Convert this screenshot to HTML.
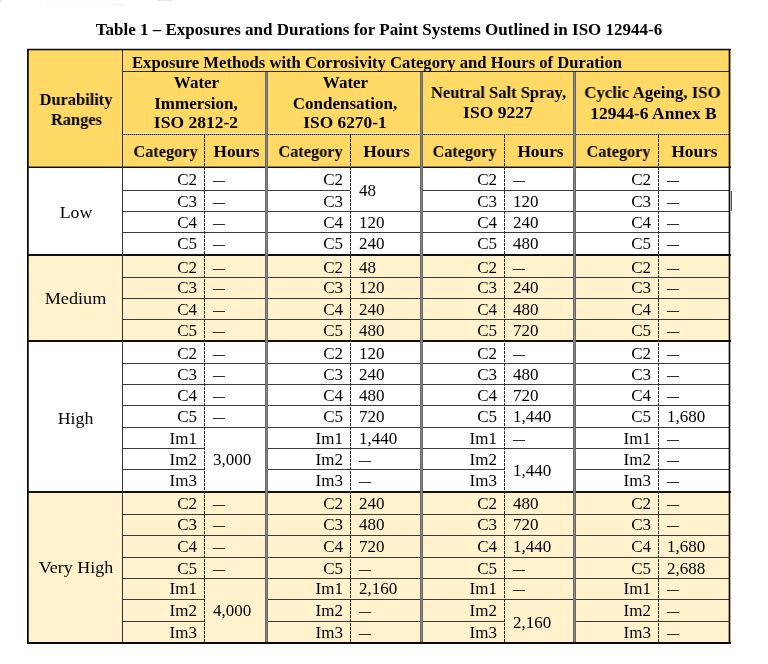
<!DOCTYPE html>
<html><head><meta charset="utf-8"><title>Table 1</title>
<style>
html,body{margin:0;padding:0;background:#fff;}
body{width:768px;height:664px;position:relative;overflow:hidden;font-family:"Liberation Serif",serif;color:#000;}
.r{position:absolute;}
.t{position:absolute;will-change:transform;white-space:nowrap;height:20px;line-height:20px;}
.d{display:inline-block;transform:scaleX(1.4);transform-origin:0 50%;}
</style></head><body>
<div class="r" style="left:27px;top:49px;width:704px;height:119px;background:#FFD966;"></div>
<div class="r" style="left:27px;top:168px;width:704px;height:86px;background:#fff;"></div>
<div class="r" style="left:27px;top:254px;width:704px;height:87px;background:#FFF2CC;"></div>
<div class="r" style="left:27px;top:341px;width:704px;height:150px;background:#fff;"></div>
<div class="r" style="left:27px;top:491px;width:704px;height:151px;background:#FFF2CC;"></div>
<div class="r" style="left:122px;top:71px;width:607px;height:1px;background:#2a2a2a;"></div>
<div class="r" style="left:123px;top:133px;width:606px;height:1px;background:#FFEFC0;"></div>
<div class="r" style="left:122px;top:134px;width:607px;height:1px;background:repeating-linear-gradient(to right,#222 0,#222 1px,#8a7a40 1px,#8a7a40 2px);"></div>
<div class="r" style="left:123px;top:190px;width:81px;height:1px;background:#3a3a3a;"></div>
<div class="r" style="left:204px;top:190px;width:61px;height:1px;background:#3a3a3a;"></div>
<div class="r" style="left:123px;top:211px;width:81px;height:1px;background:#3a3a3a;"></div>
<div class="r" style="left:204px;top:211px;width:61px;height:1px;background:#3a3a3a;"></div>
<div class="r" style="left:123px;top:232px;width:81px;height:1px;background:#3a3a3a;"></div>
<div class="r" style="left:204px;top:232px;width:61px;height:1px;background:#3a3a3a;"></div>
<div class="r" style="left:268px;top:190px;width:82px;height:1px;background:#3a3a3a;"></div>
<div class="r" style="left:350px;top:211px;width:70px;height:1px;background:#3a3a3a;"></div>
<div class="r" style="left:268px;top:211px;width:82px;height:1px;background:#3a3a3a;"></div>
<div class="r" style="left:350px;top:211px;width:70px;height:1px;background:#3a3a3a;"></div>
<div class="r" style="left:268px;top:232px;width:82px;height:1px;background:#3a3a3a;"></div>
<div class="r" style="left:350px;top:232px;width:70px;height:1px;background:#3a3a3a;"></div>
<div class="r" style="left:423px;top:190px;width:81px;height:1px;background:#3a3a3a;"></div>
<div class="r" style="left:504px;top:190px;width:69px;height:1px;background:#3a3a3a;"></div>
<div class="r" style="left:423px;top:211px;width:81px;height:1px;background:#3a3a3a;"></div>
<div class="r" style="left:504px;top:211px;width:69px;height:1px;background:#3a3a3a;"></div>
<div class="r" style="left:423px;top:232px;width:81px;height:1px;background:#3a3a3a;"></div>
<div class="r" style="left:504px;top:232px;width:69px;height:1px;background:#3a3a3a;"></div>
<div class="r" style="left:576px;top:190px;width:82px;height:1px;background:#3a3a3a;"></div>
<div class="r" style="left:658px;top:190px;width:71px;height:1px;background:#3a3a3a;"></div>
<div class="r" style="left:576px;top:211px;width:82px;height:1px;background:#3a3a3a;"></div>
<div class="r" style="left:658px;top:211px;width:71px;height:1px;background:#3a3a3a;"></div>
<div class="r" style="left:576px;top:232px;width:82px;height:1px;background:#3a3a3a;"></div>
<div class="r" style="left:658px;top:232px;width:71px;height:1px;background:#3a3a3a;"></div>
<div class="r" style="left:123px;top:277px;width:81px;height:1px;background:#3a3a3a;"></div>
<div class="r" style="left:204px;top:277px;width:61px;height:1px;background:#3a3a3a;"></div>
<div class="r" style="left:123px;top:298px;width:81px;height:1px;background:#3a3a3a;"></div>
<div class="r" style="left:204px;top:298px;width:61px;height:1px;background:#3a3a3a;"></div>
<div class="r" style="left:123px;top:319px;width:81px;height:1px;background:#3a3a3a;"></div>
<div class="r" style="left:204px;top:319px;width:61px;height:1px;background:#3a3a3a;"></div>
<div class="r" style="left:268px;top:277px;width:82px;height:1px;background:#3a3a3a;"></div>
<div class="r" style="left:350px;top:277px;width:70px;height:1px;background:#3a3a3a;"></div>
<div class="r" style="left:268px;top:298px;width:82px;height:1px;background:#3a3a3a;"></div>
<div class="r" style="left:350px;top:298px;width:70px;height:1px;background:#3a3a3a;"></div>
<div class="r" style="left:268px;top:319px;width:82px;height:1px;background:#3a3a3a;"></div>
<div class="r" style="left:350px;top:319px;width:70px;height:1px;background:#3a3a3a;"></div>
<div class="r" style="left:423px;top:277px;width:81px;height:1px;background:#3a3a3a;"></div>
<div class="r" style="left:504px;top:277px;width:69px;height:1px;background:#3a3a3a;"></div>
<div class="r" style="left:423px;top:298px;width:81px;height:1px;background:#3a3a3a;"></div>
<div class="r" style="left:504px;top:298px;width:69px;height:1px;background:#3a3a3a;"></div>
<div class="r" style="left:423px;top:319px;width:81px;height:1px;background:#3a3a3a;"></div>
<div class="r" style="left:504px;top:319px;width:69px;height:1px;background:#3a3a3a;"></div>
<div class="r" style="left:576px;top:277px;width:82px;height:1px;background:#3a3a3a;"></div>
<div class="r" style="left:658px;top:277px;width:71px;height:1px;background:#3a3a3a;"></div>
<div class="r" style="left:576px;top:298px;width:82px;height:1px;background:#3a3a3a;"></div>
<div class="r" style="left:658px;top:298px;width:71px;height:1px;background:#3a3a3a;"></div>
<div class="r" style="left:576px;top:319px;width:82px;height:1px;background:#3a3a3a;"></div>
<div class="r" style="left:658px;top:319px;width:71px;height:1px;background:#3a3a3a;"></div>
<div class="r" style="left:123px;top:363px;width:81px;height:1px;background:#3a3a3a;"></div>
<div class="r" style="left:204px;top:363px;width:61px;height:1px;background:#3a3a3a;"></div>
<div class="r" style="left:123px;top:384px;width:81px;height:1px;background:#3a3a3a;"></div>
<div class="r" style="left:204px;top:384px;width:61px;height:1px;background:#3a3a3a;"></div>
<div class="r" style="left:123px;top:405px;width:81px;height:1px;background:#3a3a3a;"></div>
<div class="r" style="left:204px;top:405px;width:61px;height:1px;background:#3a3a3a;"></div>
<div class="r" style="left:123px;top:427px;width:81px;height:1px;background:#3a3a3a;"></div>
<div class="r" style="left:204px;top:427px;width:61px;height:1px;background:#3a3a3a;"></div>
<div class="r" style="left:123px;top:448px;width:81px;height:1px;background:#3a3a3a;"></div>
<div class="r" style="left:123px;top:469px;width:81px;height:1px;background:#3a3a3a;"></div>
<div class="r" style="left:268px;top:363px;width:82px;height:1px;background:#3a3a3a;"></div>
<div class="r" style="left:350px;top:363px;width:70px;height:1px;background:#3a3a3a;"></div>
<div class="r" style="left:268px;top:384px;width:82px;height:1px;background:#3a3a3a;"></div>
<div class="r" style="left:350px;top:384px;width:70px;height:1px;background:#3a3a3a;"></div>
<div class="r" style="left:268px;top:405px;width:82px;height:1px;background:#3a3a3a;"></div>
<div class="r" style="left:350px;top:405px;width:70px;height:1px;background:#3a3a3a;"></div>
<div class="r" style="left:268px;top:427px;width:82px;height:1px;background:#3a3a3a;"></div>
<div class="r" style="left:350px;top:427px;width:70px;height:1px;background:#3a3a3a;"></div>
<div class="r" style="left:268px;top:448px;width:82px;height:1px;background:#3a3a3a;"></div>
<div class="r" style="left:350px;top:448px;width:70px;height:1px;background:#3a3a3a;"></div>
<div class="r" style="left:268px;top:469px;width:82px;height:1px;background:#3a3a3a;"></div>
<div class="r" style="left:350px;top:469px;width:70px;height:1px;background:#3a3a3a;"></div>
<div class="r" style="left:423px;top:363px;width:81px;height:1px;background:#3a3a3a;"></div>
<div class="r" style="left:504px;top:363px;width:69px;height:1px;background:#3a3a3a;"></div>
<div class="r" style="left:423px;top:384px;width:81px;height:1px;background:#3a3a3a;"></div>
<div class="r" style="left:504px;top:384px;width:69px;height:1px;background:#3a3a3a;"></div>
<div class="r" style="left:423px;top:405px;width:81px;height:1px;background:#3a3a3a;"></div>
<div class="r" style="left:504px;top:405px;width:69px;height:1px;background:#3a3a3a;"></div>
<div class="r" style="left:423px;top:427px;width:81px;height:1px;background:#3a3a3a;"></div>
<div class="r" style="left:504px;top:427px;width:69px;height:1px;background:#3a3a3a;"></div>
<div class="r" style="left:423px;top:448px;width:81px;height:1px;background:#3a3a3a;"></div>
<div class="r" style="left:504px;top:448px;width:69px;height:1px;background:#3a3a3a;"></div>
<div class="r" style="left:423px;top:469px;width:81px;height:1px;background:#3a3a3a;"></div>
<div class="r" style="left:576px;top:363px;width:82px;height:1px;background:#3a3a3a;"></div>
<div class="r" style="left:658px;top:363px;width:71px;height:1px;background:#3a3a3a;"></div>
<div class="r" style="left:576px;top:384px;width:82px;height:1px;background:#3a3a3a;"></div>
<div class="r" style="left:658px;top:384px;width:71px;height:1px;background:#3a3a3a;"></div>
<div class="r" style="left:576px;top:405px;width:82px;height:1px;background:#3a3a3a;"></div>
<div class="r" style="left:658px;top:405px;width:71px;height:1px;background:#3a3a3a;"></div>
<div class="r" style="left:576px;top:427px;width:82px;height:1px;background:#3a3a3a;"></div>
<div class="r" style="left:658px;top:427px;width:71px;height:1px;background:#3a3a3a;"></div>
<div class="r" style="left:576px;top:448px;width:82px;height:1px;background:#3a3a3a;"></div>
<div class="r" style="left:658px;top:448px;width:71px;height:1px;background:#3a3a3a;"></div>
<div class="r" style="left:576px;top:469px;width:82px;height:1px;background:#3a3a3a;"></div>
<div class="r" style="left:658px;top:469px;width:71px;height:1px;background:#3a3a3a;"></div>
<div class="r" style="left:123px;top:514px;width:81px;height:1px;background:#3a3a3a;"></div>
<div class="r" style="left:204px;top:514px;width:61px;height:1px;background:#3a3a3a;"></div>
<div class="r" style="left:123px;top:535px;width:81px;height:1px;background:#3a3a3a;"></div>
<div class="r" style="left:204px;top:535px;width:61px;height:1px;background:#3a3a3a;"></div>
<div class="r" style="left:123px;top:557px;width:81px;height:1px;background:#3a3a3a;"></div>
<div class="r" style="left:204px;top:557px;width:61px;height:1px;background:#3a3a3a;"></div>
<div class="r" style="left:123px;top:578px;width:81px;height:1px;background:#3a3a3a;"></div>
<div class="r" style="left:204px;top:578px;width:61px;height:1px;background:#3a3a3a;"></div>
<div class="r" style="left:123px;top:599px;width:81px;height:1px;background:#3a3a3a;"></div>
<div class="r" style="left:123px;top:621px;width:81px;height:1px;background:#3a3a3a;"></div>
<div class="r" style="left:268px;top:514px;width:82px;height:1px;background:#3a3a3a;"></div>
<div class="r" style="left:350px;top:514px;width:70px;height:1px;background:#3a3a3a;"></div>
<div class="r" style="left:268px;top:535px;width:82px;height:1px;background:#3a3a3a;"></div>
<div class="r" style="left:350px;top:535px;width:70px;height:1px;background:#3a3a3a;"></div>
<div class="r" style="left:268px;top:557px;width:82px;height:1px;background:#3a3a3a;"></div>
<div class="r" style="left:350px;top:557px;width:70px;height:1px;background:#3a3a3a;"></div>
<div class="r" style="left:268px;top:578px;width:82px;height:1px;background:#3a3a3a;"></div>
<div class="r" style="left:350px;top:578px;width:70px;height:1px;background:#3a3a3a;"></div>
<div class="r" style="left:268px;top:599px;width:82px;height:1px;background:#3a3a3a;"></div>
<div class="r" style="left:350px;top:599px;width:70px;height:1px;background:#3a3a3a;"></div>
<div class="r" style="left:268px;top:621px;width:82px;height:1px;background:#3a3a3a;"></div>
<div class="r" style="left:350px;top:621px;width:70px;height:1px;background:#3a3a3a;"></div>
<div class="r" style="left:423px;top:514px;width:81px;height:1px;background:#3a3a3a;"></div>
<div class="r" style="left:504px;top:514px;width:69px;height:1px;background:#3a3a3a;"></div>
<div class="r" style="left:423px;top:535px;width:81px;height:1px;background:#3a3a3a;"></div>
<div class="r" style="left:504px;top:535px;width:69px;height:1px;background:#3a3a3a;"></div>
<div class="r" style="left:423px;top:557px;width:81px;height:1px;background:#3a3a3a;"></div>
<div class="r" style="left:504px;top:557px;width:69px;height:1px;background:#3a3a3a;"></div>
<div class="r" style="left:423px;top:578px;width:81px;height:1px;background:#3a3a3a;"></div>
<div class="r" style="left:504px;top:578px;width:69px;height:1px;background:#3a3a3a;"></div>
<div class="r" style="left:423px;top:599px;width:81px;height:1px;background:#3a3a3a;"></div>
<div class="r" style="left:504px;top:599px;width:69px;height:1px;background:#3a3a3a;"></div>
<div class="r" style="left:423px;top:621px;width:81px;height:1px;background:#3a3a3a;"></div>
<div class="r" style="left:576px;top:514px;width:82px;height:1px;background:#3a3a3a;"></div>
<div class="r" style="left:658px;top:514px;width:71px;height:1px;background:#3a3a3a;"></div>
<div class="r" style="left:576px;top:535px;width:82px;height:1px;background:#3a3a3a;"></div>
<div class="r" style="left:658px;top:535px;width:71px;height:1px;background:#3a3a3a;"></div>
<div class="r" style="left:576px;top:557px;width:82px;height:1px;background:#3a3a3a;"></div>
<div class="r" style="left:658px;top:557px;width:71px;height:1px;background:#3a3a3a;"></div>
<div class="r" style="left:576px;top:578px;width:82px;height:1px;background:#3a3a3a;"></div>
<div class="r" style="left:658px;top:578px;width:71px;height:1px;background:#3a3a3a;"></div>
<div class="r" style="left:576px;top:599px;width:82px;height:1px;background:#3a3a3a;"></div>
<div class="r" style="left:658px;top:599px;width:71px;height:1px;background:#3a3a3a;"></div>
<div class="r" style="left:576px;top:621px;width:82px;height:1px;background:#3a3a3a;"></div>
<div class="r" style="left:658px;top:621px;width:71px;height:1px;background:#3a3a3a;"></div>
<div class="r" style="left:27px;top:254px;width:704px;height:2px;background:#111;"></div>
<div class="r" style="left:27px;top:340px;width:704px;height:2px;background:#111;"></div>
<div class="r" style="left:27px;top:491px;width:704px;height:2px;background:#111;"></div>
<div class="r" style="left:27px;top:166px;width:704px;height:1px;background:rgba(10,10,10,0.45);"></div>
<div class="r" style="left:27px;top:167px;width:704px;height:1px;background:#0a0a0a;"></div>
<div class="r" style="left:122px;top:49px;width:1px;height:593px;background:#333;"></div>
<div class="r" style="left:265px;top:72px;width:3px;height:571px;background:#8a8a8a;border-left:1px solid #666;border-right:1px solid #666;box-sizing:border-box;"></div>
<div class="r" style="left:420px;top:72px;width:3px;height:571px;background:#8a8a8a;border-left:1px solid #666;border-right:1px solid #666;box-sizing:border-box;"></div>
<div class="r" style="left:573px;top:72px;width:3px;height:571px;background:#8a8a8a;border-left:1px solid #666;border-right:1px solid #666;box-sizing:border-box;"></div>
<div class="r" style="left:204px;top:135px;width:1px;height:507px;background:repeating-linear-gradient(to bottom,#2e2e2e 0,#2e2e2e 3px,transparent 3px,transparent 4px);"></div>
<div class="r" style="left:350px;top:135px;width:1px;height:507px;background:repeating-linear-gradient(to bottom,#2e2e2e 0,#2e2e2e 3px,transparent 3px,transparent 4px);"></div>
<div class="r" style="left:504px;top:135px;width:1px;height:507px;background:repeating-linear-gradient(to bottom,#2e2e2e 0,#2e2e2e 3px,transparent 3px,transparent 4px);"></div>
<div class="r" style="left:658px;top:135px;width:1px;height:507px;background:repeating-linear-gradient(to bottom,#2e2e2e 0,#2e2e2e 3px,transparent 3px,transparent 4px);"></div>
<div class="r" style="left:27px;top:48px;width:704px;height:1px;background:rgba(10,10,10,0.25);"></div>
<div class="r" style="left:27px;top:49px;width:704px;height:1px;background:#0a0a0a;"></div>
<div class="r" style="left:28px;top:50px;width:702px;height:1px;background:rgba(10,10,10,0.3);"></div>
<div class="r" style="left:27px;top:642px;width:704px;height:2px;background:#0a0a0a;"></div>
<div class="r" style="left:27px;top:49px;width:1px;height:595px;background:#0a0a0a;"></div>
<div class="r" style="left:28px;top:50px;width:1px;height:593px;background:rgba(10,10,10,0.75);"></div>
<div class="r" style="left:728px;top:50px;width:1px;height:593px;background:rgba(10,10,10,0.35);"></div>
<div class="r" style="left:729px;top:49px;width:1px;height:595px;background:#0a0a0a;"></div>
<div class="r" style="left:730px;top:49px;width:1px;height:595px;background:rgba(10,10,10,0.3);"></div>
<div class="r" style="left:731px;top:191px;width:1px;height:20px;background:#555;"></div>
<div class="r" style="left:0px;top:0px;width:2px;height:2px;background:#e4e4e4;"></div>
<div class="r" style="left:47px;top:4px;width:66px;height:1px;background:repeating-linear-gradient(to right,#F7F0D8 0,#F7F0D8 1px,transparent 1px,transparent 2px);"></div>
<div class="r" style="left:113px;top:4px;width:12px;height:1px;background:#F6EEE2;"></div>
<div class="r" style="left:158px;top:0;width:15px;height:1px;background:repeating-linear-gradient(to right,#dcdcdc 0,#dcdcdc 2px,transparent 2px,transparent 3px);"></div>
<div class="t" style="left:59px;top:202px;width:34px;font-size:17.5px;text-align:center;transform:scaleX(1.0162);transform-origin:50% 50%;">Low</div>
<div class="t" style="left:175px;top:170px;width:22px;font-size:17px;text-align:right;">C2</div>
<div class="t" style="left:213px;top:170px;width:10px;font-size:17px;text-align:left;"><span class="d">–</span></div>
<div class="t" style="left:175px;top:192px;width:22px;font-size:17px;text-align:right;">C3</div>
<div class="t" style="left:213px;top:192px;width:10px;font-size:17px;text-align:left;"><span class="d">–</span></div>
<div class="t" style="left:175px;top:213px;width:22px;font-size:17px;text-align:right;">C4</div>
<div class="t" style="left:213px;top:213px;width:10px;font-size:17px;text-align:left;"><span class="d">–</span></div>
<div class="t" style="left:175px;top:234px;width:22px;font-size:17px;text-align:right;">C5</div>
<div class="t" style="left:213px;top:234px;width:10px;font-size:17px;text-align:left;"><span class="d">–</span></div>
<div class="t" style="left:321px;top:170px;width:22px;font-size:17px;text-align:right;">C2</div>
<div class="t" style="left:359px;top:181px;width:19px;font-size:17px;text-align:left;">48</div>
<div class="t" style="left:321px;top:192px;width:22px;font-size:17px;text-align:right;">C3</div>
<div class="t" style="left:321px;top:213px;width:22px;font-size:17px;text-align:right;">C4</div>
<div class="t" style="left:359px;top:213px;width:28px;font-size:17px;text-align:left;">120</div>
<div class="t" style="left:321px;top:234px;width:22px;font-size:17px;text-align:right;">C5</div>
<div class="t" style="left:359px;top:234px;width:28px;font-size:17px;text-align:left;">240</div>
<div class="t" style="left:475px;top:170px;width:22px;font-size:17px;text-align:right;">C2</div>
<div class="t" style="left:513px;top:170px;width:10px;font-size:17px;text-align:left;"><span class="d">–</span></div>
<div class="t" style="left:475px;top:192px;width:22px;font-size:17px;text-align:right;">C3</div>
<div class="t" style="left:513px;top:192px;width:28px;font-size:17px;text-align:left;">120</div>
<div class="t" style="left:475px;top:213px;width:22px;font-size:17px;text-align:right;">C4</div>
<div class="t" style="left:513px;top:213px;width:28px;font-size:17px;text-align:left;">240</div>
<div class="t" style="left:475px;top:234px;width:22px;font-size:17px;text-align:right;">C5</div>
<div class="t" style="left:513px;top:234px;width:28px;font-size:17px;text-align:left;">480</div>
<div class="t" style="left:629px;top:170px;width:22px;font-size:17px;text-align:right;">C2</div>
<div class="t" style="left:667px;top:170px;width:10px;font-size:17px;text-align:left;"><span class="d">–</span></div>
<div class="t" style="left:629px;top:192px;width:22px;font-size:17px;text-align:right;">C3</div>
<div class="t" style="left:667px;top:192px;width:10px;font-size:17px;text-align:left;"><span class="d">–</span></div>
<div class="t" style="left:629px;top:213px;width:22px;font-size:17px;text-align:right;">C4</div>
<div class="t" style="left:667px;top:213px;width:10px;font-size:17px;text-align:left;"><span class="d">–</span></div>
<div class="t" style="left:629px;top:234px;width:22px;font-size:17px;text-align:right;">C5</div>
<div class="t" style="left:667px;top:234px;width:10px;font-size:17px;text-align:left;"><span class="d">–</span></div>
<div class="t" style="left:45px;top:288px;width:61px;font-size:17.5px;text-align:center;transform:scaleX(1.0387);transform-origin:50% 50%;">Medium</div>
<div class="t" style="left:175px;top:258px;width:22px;font-size:17px;text-align:right;">C2</div>
<div class="t" style="left:213px;top:258px;width:10px;font-size:17px;text-align:left;"><span class="d">–</span></div>
<div class="t" style="left:175px;top:278px;width:22px;font-size:17px;text-align:right;">C3</div>
<div class="t" style="left:213px;top:278px;width:10px;font-size:17px;text-align:left;"><span class="d">–</span></div>
<div class="t" style="left:175px;top:300px;width:22px;font-size:17px;text-align:right;">C4</div>
<div class="t" style="left:213px;top:300px;width:10px;font-size:17px;text-align:left;"><span class="d">–</span></div>
<div class="t" style="left:175px;top:321px;width:22px;font-size:17px;text-align:right;">C5</div>
<div class="t" style="left:213px;top:321px;width:10px;font-size:17px;text-align:left;"><span class="d">–</span></div>
<div class="t" style="left:321px;top:258px;width:22px;font-size:17px;text-align:right;">C2</div>
<div class="t" style="left:359px;top:258px;width:19px;font-size:17px;text-align:left;">48</div>
<div class="t" style="left:321px;top:278px;width:22px;font-size:17px;text-align:right;">C3</div>
<div class="t" style="left:359px;top:278px;width:28px;font-size:17px;text-align:left;">120</div>
<div class="t" style="left:321px;top:300px;width:22px;font-size:17px;text-align:right;">C4</div>
<div class="t" style="left:359px;top:300px;width:28px;font-size:17px;text-align:left;">240</div>
<div class="t" style="left:321px;top:321px;width:22px;font-size:17px;text-align:right;">C5</div>
<div class="t" style="left:359px;top:321px;width:28px;font-size:17px;text-align:left;">480</div>
<div class="t" style="left:475px;top:258px;width:22px;font-size:17px;text-align:right;">C2</div>
<div class="t" style="left:513px;top:258px;width:10px;font-size:17px;text-align:left;"><span class="d">–</span></div>
<div class="t" style="left:475px;top:278px;width:22px;font-size:17px;text-align:right;">C3</div>
<div class="t" style="left:513px;top:278px;width:28px;font-size:17px;text-align:left;">240</div>
<div class="t" style="left:475px;top:300px;width:22px;font-size:17px;text-align:right;">C4</div>
<div class="t" style="left:513px;top:300px;width:28px;font-size:17px;text-align:left;">480</div>
<div class="t" style="left:475px;top:321px;width:22px;font-size:17px;text-align:right;">C5</div>
<div class="t" style="left:513px;top:321px;width:28px;font-size:17px;text-align:left;">720</div>
<div class="t" style="left:629px;top:258px;width:22px;font-size:17px;text-align:right;">C2</div>
<div class="t" style="left:667px;top:258px;width:10px;font-size:17px;text-align:left;"><span class="d">–</span></div>
<div class="t" style="left:629px;top:278px;width:22px;font-size:17px;text-align:right;">C3</div>
<div class="t" style="left:667px;top:278px;width:10px;font-size:17px;text-align:left;"><span class="d">–</span></div>
<div class="t" style="left:629px;top:300px;width:22px;font-size:17px;text-align:right;">C4</div>
<div class="t" style="left:667px;top:300px;width:10px;font-size:17px;text-align:left;"><span class="d">–</span></div>
<div class="t" style="left:629px;top:321px;width:22px;font-size:17px;text-align:right;">C5</div>
<div class="t" style="left:667px;top:321px;width:10px;font-size:17px;text-align:left;"><span class="d">–</span></div>
<div class="t" style="left:57px;top:408px;width:37px;font-size:17.5px;text-align:center;transform:scaleX(1.0200);transform-origin:50% 50%;">High</div>
<div class="t" style="left:175px;top:344px;width:22px;font-size:17px;text-align:right;">C2</div>
<div class="t" style="left:213px;top:344px;width:10px;font-size:17px;text-align:left;"><span class="d">–</span></div>
<div class="t" style="left:175px;top:365px;width:22px;font-size:17px;text-align:right;">C3</div>
<div class="t" style="left:213px;top:365px;width:10px;font-size:17px;text-align:left;"><span class="d">–</span></div>
<div class="t" style="left:175px;top:386px;width:22px;font-size:17px;text-align:right;">C4</div>
<div class="t" style="left:213px;top:386px;width:10px;font-size:17px;text-align:left;"><span class="d">–</span></div>
<div class="t" style="left:175px;top:407px;width:22px;font-size:17px;text-align:right;">C5</div>
<div class="t" style="left:213px;top:407px;width:10px;font-size:17px;text-align:left;"><span class="d">–</span></div>
<div class="t" style="left:168px;top:429px;width:29px;font-size:17px;text-align:right;">Im1</div>
<div class="t" style="left:213px;top:450px;width:40px;font-size:17px;text-align:left;">3,000</div>
<div class="t" style="left:168px;top:450px;width:29px;font-size:17px;text-align:right;">Im2</div>
<div class="t" style="left:168px;top:471px;width:29px;font-size:17px;text-align:right;">Im3</div>
<div class="t" style="left:321px;top:344px;width:22px;font-size:17px;text-align:right;">C2</div>
<div class="t" style="left:359px;top:344px;width:28px;font-size:17px;text-align:left;">120</div>
<div class="t" style="left:321px;top:365px;width:22px;font-size:17px;text-align:right;">C3</div>
<div class="t" style="left:359px;top:365px;width:28px;font-size:17px;text-align:left;">240</div>
<div class="t" style="left:321px;top:386px;width:22px;font-size:17px;text-align:right;">C4</div>
<div class="t" style="left:359px;top:386px;width:28px;font-size:17px;text-align:left;">480</div>
<div class="t" style="left:321px;top:407px;width:22px;font-size:17px;text-align:right;">C5</div>
<div class="t" style="left:359px;top:407px;width:28px;font-size:17px;text-align:left;">720</div>
<div class="t" style="left:314px;top:429px;width:29px;font-size:17px;text-align:right;">Im1</div>
<div class="t" style="left:359px;top:429px;width:40px;font-size:17px;text-align:left;">1,440</div>
<div class="t" style="left:314px;top:450px;width:29px;font-size:17px;text-align:right;">Im2</div>
<div class="t" style="left:359px;top:450px;width:10px;font-size:17px;text-align:left;"><span class="d">–</span></div>
<div class="t" style="left:314px;top:471px;width:29px;font-size:17px;text-align:right;">Im3</div>
<div class="t" style="left:359px;top:471px;width:10px;font-size:17px;text-align:left;"><span class="d">–</span></div>
<div class="t" style="left:475px;top:344px;width:22px;font-size:17px;text-align:right;">C2</div>
<div class="t" style="left:513px;top:344px;width:10px;font-size:17px;text-align:left;"><span class="d">–</span></div>
<div class="t" style="left:475px;top:365px;width:22px;font-size:17px;text-align:right;">C3</div>
<div class="t" style="left:513px;top:365px;width:28px;font-size:17px;text-align:left;">480</div>
<div class="t" style="left:475px;top:386px;width:22px;font-size:17px;text-align:right;">C4</div>
<div class="t" style="left:513px;top:386px;width:28px;font-size:17px;text-align:left;">720</div>
<div class="t" style="left:475px;top:407px;width:22px;font-size:17px;text-align:right;">C5</div>
<div class="t" style="left:513px;top:407px;width:40px;font-size:17px;text-align:left;">1,440</div>
<div class="t" style="left:468px;top:429px;width:29px;font-size:17px;text-align:right;">Im1</div>
<div class="t" style="left:513px;top:429px;width:10px;font-size:17px;text-align:left;"><span class="d">–</span></div>
<div class="t" style="left:468px;top:450px;width:29px;font-size:17px;text-align:right;">Im2</div>
<div class="t" style="left:513px;top:461px;width:40px;font-size:17px;text-align:left;">1,440</div>
<div class="t" style="left:468px;top:471px;width:29px;font-size:17px;text-align:right;">Im3</div>
<div class="t" style="left:629px;top:344px;width:22px;font-size:17px;text-align:right;">C2</div>
<div class="t" style="left:667px;top:344px;width:10px;font-size:17px;text-align:left;"><span class="d">–</span></div>
<div class="t" style="left:629px;top:365px;width:22px;font-size:17px;text-align:right;">C3</div>
<div class="t" style="left:667px;top:365px;width:10px;font-size:17px;text-align:left;"><span class="d">–</span></div>
<div class="t" style="left:629px;top:386px;width:22px;font-size:17px;text-align:right;">C4</div>
<div class="t" style="left:667px;top:386px;width:10px;font-size:17px;text-align:left;"><span class="d">–</span></div>
<div class="t" style="left:629px;top:407px;width:22px;font-size:17px;text-align:right;">C5</div>
<div class="t" style="left:667px;top:407px;width:40px;font-size:17px;text-align:left;">1,680</div>
<div class="t" style="left:622px;top:429px;width:29px;font-size:17px;text-align:right;">Im1</div>
<div class="t" style="left:667px;top:429px;width:10px;font-size:17px;text-align:left;"><span class="d">–</span></div>
<div class="t" style="left:622px;top:450px;width:29px;font-size:17px;text-align:right;">Im2</div>
<div class="t" style="left:667px;top:450px;width:10px;font-size:17px;text-align:left;"><span class="d">–</span></div>
<div class="t" style="left:622px;top:471px;width:29px;font-size:17px;text-align:right;">Im3</div>
<div class="t" style="left:667px;top:471px;width:10px;font-size:17px;text-align:left;"><span class="d">–</span></div>
<div class="t" style="left:38.5px;top:557px;width:74px;font-size:17.5px;text-align:center;transform:scaleX(1.0260);transform-origin:50% 50%;">Very High</div>
<div class="t" style="left:175px;top:494px;width:22px;font-size:17px;text-align:right;">C2</div>
<div class="t" style="left:213px;top:494px;width:10px;font-size:17px;text-align:left;"><span class="d">–</span></div>
<div class="t" style="left:175px;top:515px;width:22px;font-size:17px;text-align:right;">C3</div>
<div class="t" style="left:213px;top:515px;width:10px;font-size:17px;text-align:left;"><span class="d">–</span></div>
<div class="t" style="left:175px;top:537px;width:22px;font-size:17px;text-align:right;">C4</div>
<div class="t" style="left:213px;top:537px;width:10px;font-size:17px;text-align:left;"><span class="d">–</span></div>
<div class="t" style="left:175px;top:559px;width:22px;font-size:17px;text-align:right;">C5</div>
<div class="t" style="left:213px;top:559px;width:10px;font-size:17px;text-align:left;"><span class="d">–</span></div>
<div class="t" style="left:168px;top:579px;width:29px;font-size:17px;text-align:right;">Im1</div>
<div class="t" style="left:213px;top:601px;width:40px;font-size:17px;text-align:left;">4,000</div>
<div class="t" style="left:168px;top:601px;width:29px;font-size:17px;text-align:right;">Im2</div>
<div class="t" style="left:168px;top:623px;width:29px;font-size:17px;text-align:right;">Im3</div>
<div class="t" style="left:321px;top:494px;width:22px;font-size:17px;text-align:right;">C2</div>
<div class="t" style="left:359px;top:494px;width:28px;font-size:17px;text-align:left;">240</div>
<div class="t" style="left:321px;top:515px;width:22px;font-size:17px;text-align:right;">C3</div>
<div class="t" style="left:359px;top:515px;width:28px;font-size:17px;text-align:left;">480</div>
<div class="t" style="left:321px;top:537px;width:22px;font-size:17px;text-align:right;">C4</div>
<div class="t" style="left:359px;top:537px;width:28px;font-size:17px;text-align:left;">720</div>
<div class="t" style="left:321px;top:559px;width:22px;font-size:17px;text-align:right;">C5</div>
<div class="t" style="left:359px;top:559px;width:10px;font-size:17px;text-align:left;"><span class="d">–</span></div>
<div class="t" style="left:314px;top:579px;width:29px;font-size:17px;text-align:right;">Im1</div>
<div class="t" style="left:359px;top:579px;width:40px;font-size:17px;text-align:left;">2,160</div>
<div class="t" style="left:314px;top:601px;width:29px;font-size:17px;text-align:right;">Im2</div>
<div class="t" style="left:359px;top:601px;width:10px;font-size:17px;text-align:left;"><span class="d">–</span></div>
<div class="t" style="left:314px;top:623px;width:29px;font-size:17px;text-align:right;">Im3</div>
<div class="t" style="left:359px;top:623px;width:10px;font-size:17px;text-align:left;"><span class="d">–</span></div>
<div class="t" style="left:475px;top:494px;width:22px;font-size:17px;text-align:right;">C2</div>
<div class="t" style="left:513px;top:494px;width:28px;font-size:17px;text-align:left;">480</div>
<div class="t" style="left:475px;top:515px;width:22px;font-size:17px;text-align:right;">C3</div>
<div class="t" style="left:513px;top:515px;width:28px;font-size:17px;text-align:left;">720</div>
<div class="t" style="left:475px;top:537px;width:22px;font-size:17px;text-align:right;">C4</div>
<div class="t" style="left:513px;top:537px;width:40px;font-size:17px;text-align:left;">1,440</div>
<div class="t" style="left:475px;top:559px;width:22px;font-size:17px;text-align:right;">C5</div>
<div class="t" style="left:513px;top:559px;width:10px;font-size:17px;text-align:left;"><span class="d">–</span></div>
<div class="t" style="left:468px;top:579px;width:29px;font-size:17px;text-align:right;">Im1</div>
<div class="t" style="left:513px;top:579px;width:10px;font-size:17px;text-align:left;"><span class="d">–</span></div>
<div class="t" style="left:468px;top:601px;width:29px;font-size:17px;text-align:right;">Im2</div>
<div class="t" style="left:513px;top:613px;width:40px;font-size:17px;text-align:left;">2,160</div>
<div class="t" style="left:468px;top:623px;width:29px;font-size:17px;text-align:right;">Im3</div>
<div class="t" style="left:629px;top:494px;width:22px;font-size:17px;text-align:right;">C2</div>
<div class="t" style="left:667px;top:494px;width:10px;font-size:17px;text-align:left;"><span class="d">–</span></div>
<div class="t" style="left:629px;top:515px;width:22px;font-size:17px;text-align:right;">C3</div>
<div class="t" style="left:667px;top:515px;width:10px;font-size:17px;text-align:left;"><span class="d">–</span></div>
<div class="t" style="left:629px;top:537px;width:22px;font-size:17px;text-align:right;">C4</div>
<div class="t" style="left:667px;top:537px;width:40px;font-size:17px;text-align:left;">1,680</div>
<div class="t" style="left:629px;top:559px;width:22px;font-size:17px;text-align:right;">C5</div>
<div class="t" style="left:667px;top:559px;width:40px;font-size:17px;text-align:left;">2,688</div>
<div class="t" style="left:622px;top:579px;width:29px;font-size:17px;text-align:right;">Im1</div>
<div class="t" style="left:667px;top:579px;width:10px;font-size:17px;text-align:left;"><span class="d">–</span></div>
<div class="t" style="left:622px;top:601px;width:29px;font-size:17px;text-align:right;">Im2</div>
<div class="t" style="left:667px;top:601px;width:10px;font-size:17px;text-align:left;"><span class="d">–</span></div>
<div class="t" style="left:622px;top:623px;width:29px;font-size:17px;text-align:right;">Im3</div>
<div class="t" style="left:667px;top:623px;width:10px;font-size:17px;text-align:left;"><span class="d">–</span></div>
<div class="t" style="left:94.5px;top:20px;width:568px;font-size:17px;text-align:center;font-weight:bold;">Table 1 – Exposures and Durations for Paint Systems Outlined in ISO 12944-6</div>
<div class="t" style="left:133px;top:53px;width:488px;font-size:16.5px;text-align:center;font-weight:bold;transform:scaleX(1.0078);transform-origin:50% 50%;">Exposure Methods with Corrosivity Category and Hours of Duration</div>
<div class="t" style="left:37px;top:90px;width:78px;font-size:17px;text-align:center;font-weight:bold;transform:scaleX(0.9648);transform-origin:50% 50%;">Durability</div>
<div class="t" style="left:49px;top:110px;width:55px;font-size:17px;text-align:center;font-weight:bold;transform:scaleX(0.9642);transform-origin:50% 50%;">Ranges</div>
<div class="t" style="left:172.5px;top:73px;width:47px;font-size:17px;text-align:center;font-weight:bold;">Water</div>
<div class="t" style="left:153px;top:94px;width:86px;font-size:17px;text-align:center;font-weight:bold;">Immersion,</div>
<div class="t" style="left:154px;top:113px;width:84px;font-size:17px;text-align:center;font-weight:bold;transform:scaleX(1.0317);transform-origin:50% 50%;">ISO 2812-2</div>
<div class="t" style="left:321.5px;top:73px;width:47px;font-size:17px;text-align:center;font-weight:bold;">Water</div>
<div class="t" style="left:291.5px;top:94px;width:106px;font-size:17px;text-align:center;font-weight:bold;">Condensation,</div>
<div class="t" style="left:302.5px;top:113px;width:84px;font-size:17px;text-align:center;font-weight:bold;transform:scaleX(1.0195);transform-origin:50% 50%;">ISO 6270-1</div>
<div class="t" style="left:428px;top:83px;width:141px;font-size:17px;text-align:center;font-weight:bold;transform:scaleX(0.9690);transform-origin:50% 50%;">Neutral Salt Spray,</div>
<div class="t" style="left:463px;top:103px;width:70px;font-size:17px;text-align:center;font-weight:bold;transform:scaleX(1.0334);transform-origin:50% 50%;">ISO 9227</div>
<div class="t" style="left:583px;top:83px;width:139px;font-size:17px;text-align:center;font-weight:bold;transform:scaleX(0.9926);transform-origin:50% 50%;">Cyclic Ageing, ISO</div>
<div class="t" style="left:590.5px;top:104px;width:125px;font-size:17px;text-align:center;font-weight:bold;transform:scaleX(1.0294);transform-origin:50% 50%;">12944-6 Annex B</div>
<div class="t" style="left:130.5px;top:142px;width:69px;font-size:17px;text-align:center;font-weight:bold;transform:scaleX(0.9578);transform-origin:50% 50%;">Category</div>
<div class="t" style="left:275.5px;top:142px;width:69px;font-size:17px;text-align:center;font-weight:bold;transform:scaleX(0.9578);transform-origin:50% 50%;">Category</div>
<div class="t" style="left:429.5px;top:142px;width:69px;font-size:17px;text-align:center;font-weight:bold;transform:scaleX(0.9533);transform-origin:50% 50%;">Category</div>
<div class="t" style="left:583.5px;top:142px;width:69px;font-size:17px;text-align:center;font-weight:bold;transform:scaleX(0.9533);transform-origin:50% 50%;">Category</div>
<div class="t" style="left:213px;top:142px;width:47px;font-size:17px;text-align:center;font-weight:bold;transform:scaleX(1.0146);transform-origin:50% 50%;">Hours</div>
<div class="t" style="left:363px;top:142px;width:47px;font-size:17px;text-align:center;font-weight:bold;transform:scaleX(1.0300);transform-origin:50% 50%;">Hours</div>
<div class="t" style="left:516.5px;top:142px;width:47px;font-size:17px;text-align:center;font-weight:bold;transform:scaleX(1.0190);transform-origin:50% 50%;">Hours</div>
<div class="t" style="left:670.5px;top:142px;width:47px;font-size:17px;text-align:center;font-weight:bold;transform:scaleX(1.0190);transform-origin:50% 50%;">Hours</div>
</body></html>
